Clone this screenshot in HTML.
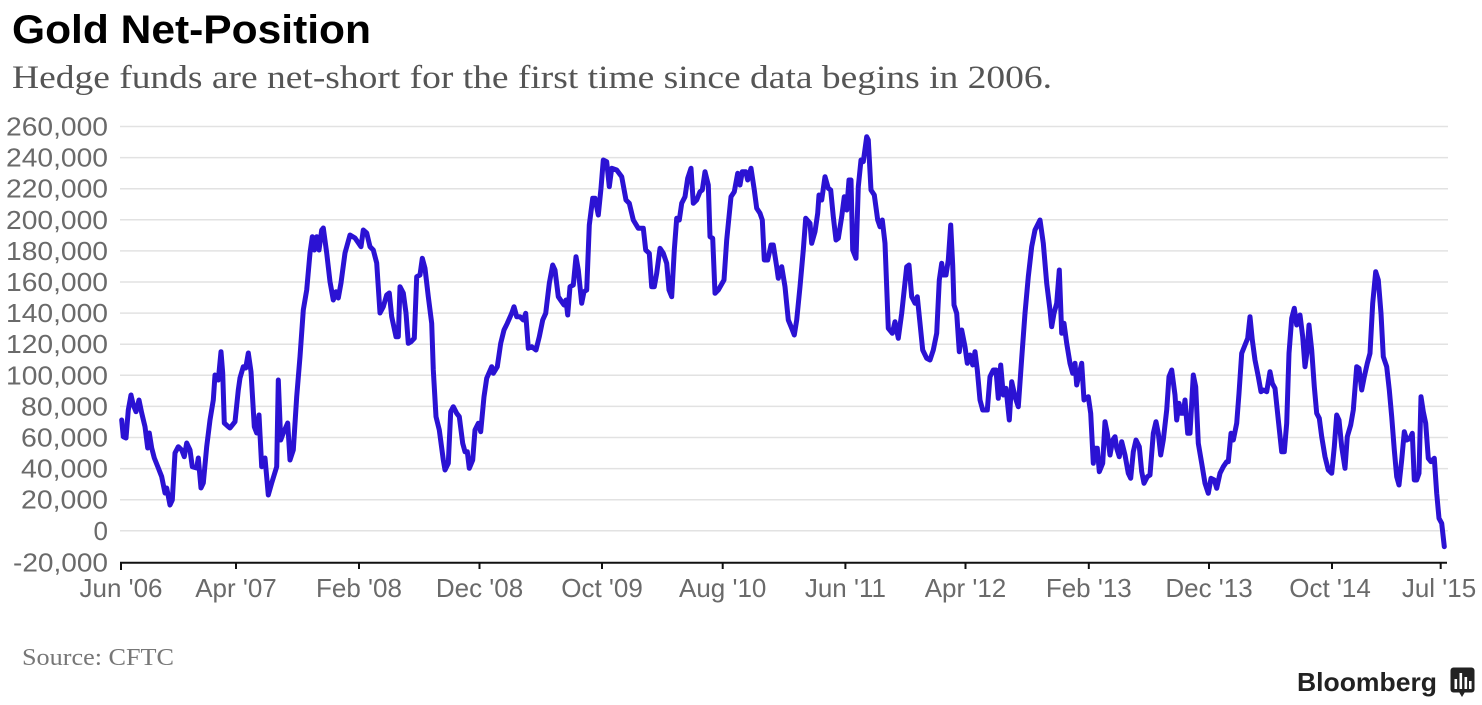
<!DOCTYPE html>
<html>
<head>
<meta charset="utf-8">
<style>
  html, body { margin: 0; padding: 0; background: #ffffff; }
  body { width: 1482px; height: 705px; overflow: hidden; }
  svg { display: block; }
</style>
</head>
<body>
<svg width="1482" height="705" viewBox="0 0 1482 705" xmlns="http://www.w3.org/2000/svg">
  <rect x="0" y="0" width="1482" height="705" fill="#ffffff"/>

  <!-- Title -->
  <text x="12" y="43" font-family="'Liberation Sans', Arial, sans-serif" font-weight="bold" font-size="40" fill="#000" textLength="359" lengthAdjust="spacingAndGlyphs">Gold Net-Position</text>
  <text x="12" y="88" font-family="'Liberation Serif', 'Times New Roman', serif" font-size="33" fill="#555" textLength="1040" lengthAdjust="spacingAndGlyphs">Hedge funds are net-short for the first time since data begins in 2006.</text>

  <!-- Gridlines -->
  <g stroke="#e2e2e2" stroke-width="1.5">
    <line x1="120" y1="126.5" x2="1448" y2="126.5"/>
    <line x1="120" y1="157.6" x2="1448" y2="157.6"/>
    <line x1="120" y1="188.7" x2="1448" y2="188.7"/>
    <line x1="120" y1="219.8" x2="1448" y2="219.8"/>
    <line x1="120" y1="250.9" x2="1448" y2="250.9"/>
    <line x1="120" y1="282.0" x2="1448" y2="282.0"/>
    <line x1="120" y1="313.1" x2="1448" y2="313.1"/>
    <line x1="120" y1="344.2" x2="1448" y2="344.2"/>
    <line x1="120" y1="375.3" x2="1448" y2="375.3"/>
    <line x1="120" y1="406.4" x2="1448" y2="406.4"/>
    <line x1="120" y1="437.5" x2="1448" y2="437.5"/>
    <line x1="120" y1="468.6" x2="1448" y2="468.6"/>
    <line x1="120" y1="499.7" x2="1448" y2="499.7"/>
    <line x1="120" y1="530.8" x2="1448" y2="530.8"/>
  </g>

  <!-- Y labels -->
  <g font-family="'Liberation Sans', Arial, sans-serif" font-size="26" fill="#6a6a6a" text-anchor="end">
    <text x="108" y="135.5" textLength="102" lengthAdjust="spacingAndGlyphs">260,000</text>
    <text x="108" y="166.6" textLength="102" lengthAdjust="spacingAndGlyphs">240,000</text>
    <text x="108" y="197.7" textLength="102" lengthAdjust="spacingAndGlyphs">220,000</text>
    <text x="108" y="228.8" textLength="102" lengthAdjust="spacingAndGlyphs">200,000</text>
    <text x="108" y="259.9" textLength="102" lengthAdjust="spacingAndGlyphs">180,000</text>
    <text x="108" y="291.0" textLength="102" lengthAdjust="spacingAndGlyphs">160,000</text>
    <text x="108" y="322.1" textLength="102" lengthAdjust="spacingAndGlyphs">140,000</text>
    <text x="108" y="353.2" textLength="102" lengthAdjust="spacingAndGlyphs">120,000</text>
    <text x="108" y="384.3" textLength="102" lengthAdjust="spacingAndGlyphs">100,000</text>
    <text x="108" y="415.4" textLength="87" lengthAdjust="spacingAndGlyphs">80,000</text>
    <text x="108" y="446.5" textLength="87" lengthAdjust="spacingAndGlyphs">60,000</text>
    <text x="108" y="477.6" textLength="87" lengthAdjust="spacingAndGlyphs">40,000</text>
    <text x="108" y="508.7" textLength="87" lengthAdjust="spacingAndGlyphs">20,000</text>
    <text x="108" y="539.8">0</text>
    <text x="108" y="571.5" textLength="95" lengthAdjust="spacingAndGlyphs">-20,000</text>
  </g>

  <!-- X axis -->
  <line x1="120" y1="562.7" x2="1447" y2="562.7" stroke="#111" stroke-width="2"/>
  <g stroke="#111" stroke-width="2">
    <line x1="121" y1="562" x2="121" y2="570"/>
    <line x1="236" y1="562" x2="236" y2="569"/>
    <line x1="359" y1="562" x2="359" y2="569"/>
    <line x1="479.5" y1="562" x2="479.5" y2="569"/>
    <line x1="602" y1="562" x2="602" y2="569"/>
    <line x1="722.7" y1="562" x2="722.7" y2="569"/>
    <line x1="845.4" y1="562" x2="845.4" y2="569"/>
    <line x1="965.5" y1="562" x2="965.5" y2="569"/>
    <line x1="1088.8" y1="562" x2="1088.8" y2="569"/>
    <line x1="1209" y1="562" x2="1209" y2="569"/>
    <line x1="1332" y1="562" x2="1332" y2="569"/>
    <line x1="1440.7" y1="562" x2="1440.7" y2="569"/>
  </g>
  <g font-family="'Liberation Sans', Arial, sans-serif" font-size="26" fill="#6a6a6a" text-anchor="middle">
    <text x="121" y="597">Jun '06</text>
    <text x="236" y="597">Apr '07</text>
    <text x="359" y="597">Feb '08</text>
    <text x="479.5" y="597">Dec '08</text>
    <text x="602" y="597">Oct '09</text>
    <text x="722.7" y="597">Aug '10</text>
    <text x="845.4" y="597">Jun '11</text>
    <text x="965.5" y="597">Apr '12</text>
    <text x="1088.8" y="597">Feb '13</text>
    <text x="1209" y="597">Dec '13</text>
    <text x="1330" y="597">Oct '14</text>
    <text x="1439" y="597">Jul '15</text>
  </g>

  <!-- Data series -->
  <polyline fill="none" stroke="#2b12d3" stroke-width="5" stroke-linejoin="round" stroke-linecap="round" points="
121.7,420 123.3,436.7 126,438 128.3,410 131,395 133.3,405 136,411.7 139,400 141.7,413 145,426.7 147.7,448 149.3,433 151.7,448 154.3,458 158.3,468 161.7,476.7 165,493 166.7,488 170,505 172.3,500 175,453 178.3,446.7 181.7,450 184.3,456.7 186.7,443 190,450 192.3,466.7 196.7,468 198.3,458 201,488 203.3,483 206.7,446.7 210,420 213.3,400 215,375 218.3,380 221,351.7 222.7,373 224.3,423 228.3,426.7 230,428 235,421.7 238.3,390 240,378 243.3,366.7 245.7,368 248.3,353 251,371.7 254.3,426.7 256.7,433 259,415 261.7,466.7 265,458 268.3,495 271.7,483 276.7,466.7 278.3,380 280.7,440 283.3,433 287.7,423 290,460 293.3,450 296.7,396.7 300,356.7 303.3,310 306.7,290 310,253 312.3,236.7 314.3,250 316.7,236.7 319,250 321.7,230 323.3,228 326.7,253 330,281.7 333.3,300 336,291.7 338.3,298 341,283 345,253 350,235 355,238 361,246.7 363.3,230 366.7,233 370,246.7 373.3,250 376.7,263 380,313 383.3,306.7 386.7,295 389.3,293 391.7,316.7 396,336.7 398.3,336.7 400,286.7 403.3,293 406,313 408.3,343.3 411,341.7 414.3,338.3 416.7,276.7 420,275 422.3,258.3 425,268.3 428.3,296.7 431.7,323.3 433.3,370 436,416.7 439.3,430 443.3,460 445,470 448.3,463.3 450.7,411.7 453.3,406.7 456.7,413.3 459.3,416.7 462.7,443.3 465,451.7 467.3,451.7 469.3,468.3 472.7,460 475,430 478.3,423.3 480.7,431.7 484,396.7 486.7,378.3 491.7,366.7 493.3,373.3 497.3,366.7 500.7,343.3 504,330 507.3,323.3 511.7,313.3 514,306.7 516.7,316.7 520,316.7 523.3,320 525.7,313.3 528.3,348.3 531.7,346.7 536,350 539.3,336.7 542.7,320 545.7,313.3 549.3,283.3 552.7,265 555,270 558.3,296.7 561.7,301.7 564,305 566,300 567.7,315 570,286.7 573.3,285 576,256.7 578.3,270 581.7,303.3 584,291.7 586.7,290 589.3,225 592.7,198.3 595,198.3 598.3,215 601,188.3 603.3,160 606.7,161.7 609.3,186.7 611.7,168.3 616.7,170 621.7,176.7 626,200 629.3,203.3 633.3,220 638.3,228.3 643.3,228.3 645.7,250 649.3,253.3 651.7,286.7 654.3,286.7 656.7,273.3 660,248.3 663.3,253.3 666.7,263.3 669,290 671.7,296.7 674.3,250 676.7,218.3 679.3,220 681.7,203.3 685,196.7 687.7,178.3 691,168.3 693.3,203.3 696.7,200 700,191.7 702.3,190 705,171.7 708.3,185 710,236.7 712.7,238.3 715,293.3 718.3,290 724,280 726.7,240 731,196.7 734.3,191.7 737.7,173.3 740,185 742.3,171.7 745.7,171.7 747.7,180 751,168.3 754.3,190 756.7,208.3 760,213.3 762.3,220 764.3,260 767.7,260 771,245 773.3,245 776.7,266.7 778.3,278.3 781.7,266.7 785,286.7 788.3,320 791.7,328.3 794.3,335 796.7,320 800,286.7 803.3,250 805.7,218.3 810,223.3 811.7,243.3 815,231.7 817.7,213.3 819,195 821.7,200 825,176.7 828.3,188.3 830.7,190 833.3,216.7 836,240 838.3,238.3 841.7,216.7 844.3,196.7 846.7,210 849,180 851,180 852.7,250 856,258.3 858.3,186.7 861,160 863.3,161.7 866.7,136.7 868.3,140 871,190 874.3,195 877.7,220 880,226.7 882.3,220 885,243.3 888.3,328.3 892.3,333.3 895,321.7 898.3,338.3 901.7,313.3 906.7,266.7 909,265 911.7,296.7 915,303.3 917.3,296.7 920,323.3 922.7,350 926.7,358.3 930,360 933.3,350 936.7,333.3 939.3,280 941.7,263.3 943.3,275 946,275 948.3,260 950.7,225 952.7,265 954,305 956.7,313.3 959.3,351.7 961.7,330 965,346.7 967.3,363.3 970,355 972.7,365 975,351.7 977.3,370 980,400 982.7,410 987.3,410 990,376.7 993.3,370 996,370 998.3,398.3 1000.7,365 1003.3,395 1006,388.3 1009.3,420 1011.7,381.7 1015,396.7 1018.3,406.7 1021.7,358.3 1025,313.3 1028.3,276.7 1031.7,246.7 1035,230 1040,220 1043.3,243.3 1046.7,283.3 1050,310 1051.7,326.7 1054,313.3 1056.7,303.3 1059.3,270 1061.7,333.3 1064,323.3 1066.7,343.3 1070,363.3 1072.7,373.3 1075,363.3 1076.7,385 1079.3,373.3 1081.7,363.3 1084,400 1086,398.3 1088.3,396.7 1090.7,413.3 1093.3,463.3 1095,448.3 1097.3,448.3 1099.3,471.7 1102.7,463.3 1105,421.7 1107.3,433.3 1110,455 1112.7,440 1115,436.7 1116.7,448.3 1119.3,456.7 1121.7,441.7 1125,455 1128.3,473.3 1130.7,478.3 1133.3,451.7 1136,440 1139.3,446.7 1141.7,471.7 1144,483.3 1147.3,476.7 1150,475 1153.3,433.3 1156,421.7 1158.3,433.3 1160.7,455 1163.3,440 1166.7,410 1169,376.7 1171.7,370 1175,395 1176.7,420 1179,403.3 1181,413.3 1183.3,413.3 1185,400 1187.7,433.3 1190,433.3 1193.3,375 1195.7,386.7 1198.3,443.3 1201.7,463.3 1205,483.3 1208.3,493.3 1211,478.3 1214.3,480 1216.7,488.3 1220,473.3 1223.3,466.7 1226.7,461.7 1228.3,461.7 1231,433.3 1233.3,440 1236.7,423.3 1239,393.3 1241.7,353.3 1245,345 1247.7,338.3 1250,316.7 1252.3,340 1255,360 1258.3,376.7 1261,391.7 1263.3,390 1266.7,391.7 1270,371.7 1272.3,383.3 1275,388.3 1278.3,420 1281.7,451.7 1284.3,451.7 1286.7,423.3 1289,353.3 1291.7,318.3 1294.3,308.3 1296.7,325 1300,315 1302.7,336.7 1305,366.7 1307.3,350 1309,325 1311.7,350 1314.3,386.7 1316.7,413.3 1319.3,418.3 1321.7,436.7 1325,456.7 1328.3,470 1331.7,473.3 1334.3,446.7 1336.7,415 1339,420 1341.7,446.7 1345,468.3 1347.3,436.7 1350.7,425 1353.3,410 1356.7,366.7 1359,368.3 1361.7,390 1364.3,376.7 1367.3,363.3 1370,353.3 1372.7,303.3 1375.7,271.7 1378.3,280 1381,313.3 1383.3,356.7 1386.7,366.7 1389.3,390 1391.7,416.7 1394.3,450 1396.7,476.7 1399,485 1401.7,460 1404.3,431.7 1406.7,440 1410,438.3 1412.3,433.3 1414.3,480 1416.7,480 1419,473.3 1421,396.7 1423.3,411.7 1425.7,423.3 1428.3,458.3 1431,461.7 1434.3,458.3 1436.7,493.3 1439,518.3 1441.7,523.3 1444.3,546.7"/>

  <!-- Source -->
  <text x="22" y="665" font-family="'Liberation Serif', 'Times New Roman', serif" font-size="24" fill="#777" textLength="152" lengthAdjust="spacingAndGlyphs">Source: CFTC</text>

  <!-- Bloomberg logo -->
  <text x="1297" y="691" font-family="'Liberation Sans', Arial, sans-serif" font-weight="bold" font-size="26" fill="#222" textLength="140" lengthAdjust="spacingAndGlyphs">Bloomberg</text>
  <g>
    <rect x="1450.5" y="667.5" width="24" height="25" rx="3" fill="#222"/>
    <polygon points="1459,692 1465,692 1462,697" fill="#222"/>
    <rect x="1454.5" y="679" width="2.6" height="10" fill="#fff"/>
    <rect x="1459.5" y="673" width="2.6" height="16" fill="#fff"/>
    <rect x="1464.5" y="677" width="2.6" height="12" fill="#fff"/>
    <rect x="1469" y="681" width="2.6" height="8" fill="#fff"/>
  </g>
</svg>
</body>
</html>
